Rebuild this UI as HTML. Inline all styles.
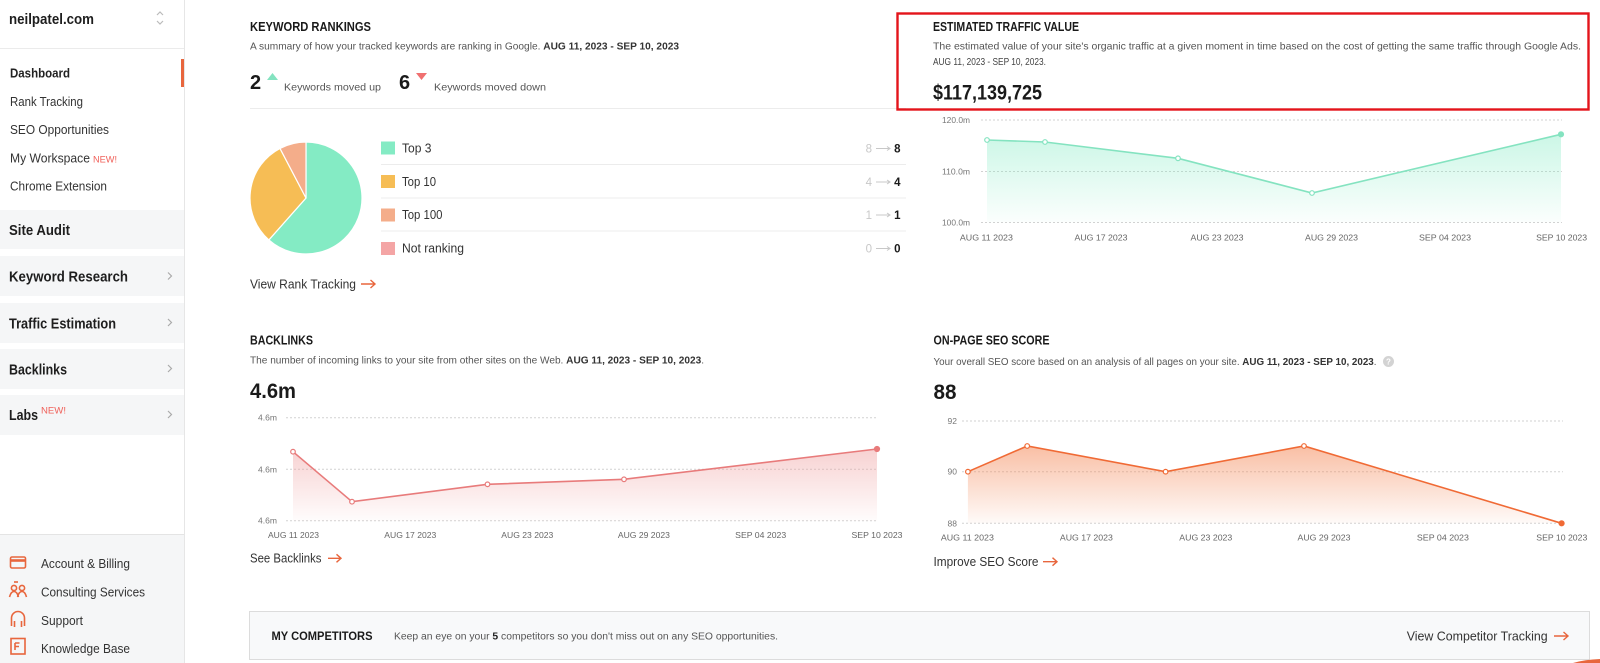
<!DOCTYPE html>
<html><head><meta charset="utf-8"><style>
html,body{margin:0;padding:0;background:#fff;width:1600px;height:663px;overflow:hidden;}
svg{display:block;font-family:"Liberation Sans",Arial,sans-serif;}
</style></head><body>
<svg width="1600" height="663" viewBox="0 0 1600 663" xmlns="http://www.w3.org/2000/svg">
<defs>
<linearGradient id="gG" x1="0" y1="0" x2="0" y2="1"><stop offset="0" stop-color="#84ebc4" stop-opacity="0.42"/><stop offset="1" stop-color="#84ebc4" stop-opacity="0.03"/></linearGradient>
<linearGradient id="gR" x1="0" y1="0" x2="0" y2="1"><stop offset="0" stop-color="#ee9a9a" stop-opacity="0.45"/><stop offset="1" stop-color="#ee9a9a" stop-opacity="0.03"/></linearGradient>
<linearGradient id="gO" x1="0" y1="0" x2="0" y2="1"><stop offset="0" stop-color="#f48a5a" stop-opacity="0.55"/><stop offset="1" stop-color="#f48a5a" stop-opacity="0.04"/></linearGradient>
</defs>

<!-- Sidebar -->
<rect x="0" y="210" width="184" height="39" fill="#f5f6f7"/>
<rect x="0" y="256" width="184" height="40" fill="#f5f6f7"/>
<rect x="0" y="303" width="184" height="40" fill="#f5f6f7"/>
<rect x="0" y="349" width="184" height="40" fill="#f5f6f7"/>
<rect x="0" y="395" width="184" height="40" fill="#f5f6f7"/>
<rect x="0" y="534" width="184" height="129" fill="#f5f6f7"/>
<line x1="0" y1="534.5" x2="184" y2="534.5" stroke="#e4e4e4"/>
<line x1="0" y1="48.5" x2="184" y2="48.5" stroke="#ebebeb"/>
<line x1="184.5" y1="0" x2="184.5" y2="663" stroke="#e6e6e6"/>
<rect x="181" y="59" width="3" height="28" fill="#e8663d"/>

<text x="9" y="24" font-size="15" font-weight="bold" fill="#1e1e1e" textLength="85" lengthAdjust="spacingAndGlyphs">neilpatel.com</text>
<polyline points="157,15 160,12 163,15" fill="none" stroke="#bbb" stroke-width="1.2"/>
<polyline points="157,21 160,24 163,21" fill="none" stroke="#bbb" stroke-width="1.2"/>

<text x="10" y="77.5" font-size="13" font-weight="bold" fill="#222" textLength="60" lengthAdjust="spacingAndGlyphs">Dashboard</text>
<text x="10" y="105.8" font-size="13" fill="#333" textLength="73" lengthAdjust="spacingAndGlyphs">Rank Tracking</text>
<text x="10" y="134.1" font-size="13" fill="#333" textLength="99" lengthAdjust="spacingAndGlyphs">SEO Opportunities</text>
<text x="10" y="162.4" font-size="13" fill="#333" textLength="80" lengthAdjust="spacingAndGlyphs">My Workspace</text>
<text x="93" y="162.4" font-size="9" fill="#f0615a" textLength="24" lengthAdjust="spacingAndGlyphs">NEW!</text>
<text x="10" y="190.7" font-size="13" fill="#333" textLength="97" lengthAdjust="spacingAndGlyphs">Chrome Extension</text>

<text x="9" y="235" font-size="15" font-weight="bold" fill="#1e1e1e" textLength="61" lengthAdjust="spacingAndGlyphs">Site Audit</text>
<text x="9" y="281.7" font-size="15" font-weight="bold" fill="#1e1e1e" textLength="119" lengthAdjust="spacingAndGlyphs">Keyword Research</text>
<text x="9" y="328.3" font-size="15" font-weight="bold" fill="#1e1e1e" textLength="107" lengthAdjust="spacingAndGlyphs">Traffic Estimation</text>
<text x="9" y="374.3" font-size="15" font-weight="bold" fill="#1e1e1e" textLength="58" lengthAdjust="spacingAndGlyphs">Backlinks</text>
<text x="9" y="420" font-size="15" font-weight="bold" fill="#1e1e1e" textLength="29" lengthAdjust="spacingAndGlyphs">Labs</text>
<text x="41" y="413.5" font-size="9" fill="#f0615a" textLength="25" lengthAdjust="spacingAndGlyphs">NEW!</text>
<g fill="none" stroke="#aaa" stroke-width="1.2">
<polyline points="168,272.5 171.5,276 168,279.5"/>
<polyline points="168,319 171.5,322.5 168,326"/>
<polyline points="168,365 171.5,368.5 168,372"/>
<polyline points="168,411 171.5,414.5 168,418"/>
</g>

<!-- bottom sidebar icons -->
<g fill="none" stroke="#e8663d" stroke-width="1.6">
<rect x="10.5" y="557" width="15" height="11" rx="1.5"/>
<line x1="10.5" y1="560.5" x2="25.5" y2="560.5" stroke-width="2.6"/>
<line x1="14" y1="582" x2="18" y2="582"/>
<circle cx="14" cy="588" r="2.6"/>
<circle cx="22" cy="588" r="2.6"/>
<path d="M9.5,597 Q11,591.5 14,591.5 Q17,591.5 18.5,597"/>
<path d="M17.5,597 Q19,591.5 22,591.5 Q25,591.5 26.5,597"/>
<path d="M11.5,626 L11.5,618 A6.5,6.5 0 0 1 24.5,618 L24.5,626"/>
<line x1="14.5" y1="621" x2="14.5" y2="627"/>
<line x1="21.5" y1="621" x2="21.5" y2="627"/>
<rect x="11" y="638.5" width="14" height="15.5"/>
<path d="M15,643 L19.5,643 M15,646.5 L19,646.5 M15,643 L15,650"/>
</g>
<text x="41" y="568" font-size="13" fill="#333" textLength="89" lengthAdjust="spacingAndGlyphs">Account &amp; Billing</text>
<text x="41" y="596.5" font-size="13" fill="#333" textLength="104" lengthAdjust="spacingAndGlyphs">Consulting Services</text>
<text x="41" y="625" font-size="13" fill="#333" textLength="42" lengthAdjust="spacingAndGlyphs">Support</text>
<text x="41" y="653" font-size="13" fill="#333" textLength="89" lengthAdjust="spacingAndGlyphs">Knowledge Base</text>

<!-- KEYWORD RANKINGS -->
<text x="250" y="31" font-size="12.5" font-weight="bold" fill="#1a1a1a" textLength="121" lengthAdjust="spacingAndGlyphs">KEYWORD RANKINGS</text>
<text x="250" y="49.5" font-size="10.5" fill="#555" textLength="429" lengthAdjust="spacingAndGlyphs">A summary of how your tracked keywords are ranking in Google. <tspan font-weight="bold" fill="#333">AUG 11, 2023 - SEP 10, 2023</tspan></text>
<text x="250" y="89" font-size="20" font-weight="bold" fill="#1a1a1a">2</text>
<polygon points="267,80 272.5,73 278,80" fill="#84e3c0"/>
<text x="284" y="90.5" font-size="10.5" fill="#555" textLength="97" lengthAdjust="spacingAndGlyphs">Keywords moved up</text>
<text x="399" y="89" font-size="20" font-weight="bold" fill="#1a1a1a">6</text>
<polygon points="416,73 427,73 421.5,80" fill="#f07070"/>
<text x="434" y="90.5" font-size="10.5" fill="#555" textLength="112" lengthAdjust="spacingAndGlyphs">Keywords moved down</text>
<line x1="250" y1="108.5" x2="906" y2="108.5" stroke="#ececec"/>

<!-- Pie -->
<g stroke="#fff" stroke-width="1.2">
<path d="M306,198 L306,142 A56,56 0 1 1 268.87,239.92 Z" fill="#84ebc4"/>
<path d="M306,198 L268.87,239.92 A56,56 0 0 1 279.98,148.41 Z" fill="#f6bd55"/>
<path d="M306,198 L279.98,148.41 A56,56 0 0 1 306,142 Z" fill="#f4ad8a"/>
</g>
<rect x="381" y="141.5" width="14" height="13" fill="#84ebc4"/>
<rect x="381" y="175" width="14" height="13" fill="#f6bd55"/>
<rect x="381" y="208.5" width="14" height="13" fill="#f4ad8a"/>
<rect x="381" y="242" width="14" height="13" fill="#f4a5a5"/>
<text x="402" y="152.5" font-size="12.5" fill="#333" textLength="29.5" lengthAdjust="spacingAndGlyphs">Top 3</text>
<text x="402" y="186" font-size="12.5" fill="#333" textLength="34" lengthAdjust="spacingAndGlyphs">Top 10</text>
<text x="402" y="219" font-size="12.5" fill="#333" textLength="40.5" lengthAdjust="spacingAndGlyphs">Top 100</text>
<text x="402" y="252.5" font-size="12.5" fill="#333" textLength="62" lengthAdjust="spacingAndGlyphs">Not ranking</text>
<g stroke="#ececec"><line x1="381" y1="164.5" x2="906" y2="164.5"/><line x1="381" y1="198" x2="906" y2="198"/><line x1="381" y1="231" x2="906" y2="231"/></g>
<g font-size="11.5">
<text x="872" y="152.5" fill="#c8c8c8" text-anchor="end">8</text><text x="900.5" y="152.5" fill="#1a1a1a" font-weight="bold" text-anchor="end">8</text>
<text x="872" y="186" fill="#c8c8c8" text-anchor="end">4</text><text x="900.5" y="186" fill="#1a1a1a" font-weight="bold" text-anchor="end">4</text>
<text x="872" y="219" fill="#c8c8c8" text-anchor="end">1</text><text x="900.5" y="219" fill="#1a1a1a" font-weight="bold" text-anchor="end">1</text>
<text x="872" y="252.5" fill="#c8c8c8" text-anchor="end">0</text><text x="900.5" y="252.5" fill="#1a1a1a" font-weight="bold" text-anchor="end">0</text>
</g>
<g fill="none" stroke="#c8c8c8" stroke-width="1">
<path d="M876,148.5 L890,148.5 M887,146.5 L890,148.5 L887,150.5"/>
<path d="M876,182 L890,182 M887,180 L890,182 L887,184"/>
<path d="M876,215 L890,215 M887,213 L890,215 L887,217"/>
<path d="M876,248.5 L890,248.5 M887,246.5 L890,248.5 L887,250.5"/>
</g>
<text x="250" y="288.4" font-size="12.5" fill="#333" textLength="106" lengthAdjust="spacingAndGlyphs">View Rank Tracking</text>
<path d="M361,284 L375,284 M370.5,280 L375,284 L370.5,288" fill="none" stroke="#e8663d" stroke-width="1.4"/>

<!-- ESTIMATED TRAFFIC VALUE -->
<rect x="897.5" y="13.5" width="691" height="96" fill="none" stroke="#e3141b" stroke-width="2.4"/>
<text x="933" y="31" font-size="12.5" font-weight="bold" fill="#1a1a1a" textLength="146" lengthAdjust="spacingAndGlyphs">ESTIMATED TRAFFIC VALUE</text>
<text x="933" y="49.5" font-size="10.5" fill="#555" textLength="648" lengthAdjust="spacingAndGlyphs">The estimated value of your site's organic traffic at a given moment in time based on the cost of getting the same traffic through Google Ads.</text>
<text x="933" y="65" font-size="10.5" fill="#444" textLength="113" lengthAdjust="spacingAndGlyphs">AUG 11, 2023 - SEP 10, 2023.</text>
<text x="933" y="99.5" font-size="21" font-weight="bold" fill="#1a1a1a" textLength="109" lengthAdjust="spacingAndGlyphs">$117,139,725</text>

<g stroke="#d2d2d2" stroke-dasharray="2 2" stroke-width="1">
<line x1="981" y1="120" x2="1562" y2="120"/><line x1="981" y1="171.5" x2="1562" y2="171.5"/><line x1="981" y1="222.5" x2="1562" y2="222.5"/>
</g>
<g font-size="8.5" fill="#777" text-anchor="end">
<text x="970" y="123" textLength="28" lengthAdjust="spacingAndGlyphs">120.0m</text>
<text x="970" y="174.7" textLength="28" lengthAdjust="spacingAndGlyphs">110.0m</text>
<text x="970" y="225.7" textLength="28" lengthAdjust="spacingAndGlyphs">100.0m</text>
</g>
<path d="M987,140 L1045,142 L1178,158.3 L1312,193 L1561,134.3 L1561,222.5 L987,222.5 Z" fill="url(#gG)"/>
<polyline points="987,140 1045,142 1178,158.3 1312,193 1561,134.3" fill="none" stroke="#84e3c0" stroke-width="1.6"/>
<g fill="#fff" stroke="#84e3c0" stroke-width="1.2">
<circle cx="987" cy="140" r="2.3"/><circle cx="1045" cy="142" r="2.3"/><circle cx="1178" cy="158.3" r="2.3"/><circle cx="1312" cy="193" r="2.3"/><circle cx="1561" cy="134.3" r="2.5" fill="#84e3c0"/>
</g>
<g font-size="8.5" fill="#666" text-anchor="middle">
<text x="986.4" y="240.7" textLength="53" lengthAdjust="spacingAndGlyphs">AUG 11 2023</text>
<text x="1101" y="240.7" textLength="53" lengthAdjust="spacingAndGlyphs">AUG 17 2023</text>
<text x="1217" y="240.7" textLength="53" lengthAdjust="spacingAndGlyphs">AUG 23 2023</text>
<text x="1331.5" y="240.7" textLength="53" lengthAdjust="spacingAndGlyphs">AUG 29 2023</text>
<text x="1445" y="240.7" textLength="52" lengthAdjust="spacingAndGlyphs">SEP 04 2023</text>
<text x="1561.6" y="240.7" textLength="51" lengthAdjust="spacingAndGlyphs">SEP 10 2023</text>
</g>

<!-- BACKLINKS -->
<text x="250" y="344.5" font-size="12.5" font-weight="bold" fill="#1a1a1a" textLength="63" lengthAdjust="spacingAndGlyphs">BACKLINKS</text>
<text x="250" y="363.5" font-size="10.5" fill="#555" textLength="454" lengthAdjust="spacingAndGlyphs">The number of incoming links to your site from other sites on the Web. <tspan font-weight="bold" fill="#333">AUG 11, 2023 - SEP 10, 2023</tspan>.</text>
<text x="250" y="398" font-size="21" font-weight="bold" fill="#1a1a1a" textLength="46" lengthAdjust="spacingAndGlyphs">4.6m</text>
<g stroke="#d2d2d2" stroke-dasharray="2 2" stroke-width="1">
<line x1="286" y1="417.7" x2="877" y2="417.7"/><line x1="286" y1="469.3" x2="877" y2="469.3"/><line x1="286" y1="520.7" x2="877" y2="520.7"/>
</g>
<g font-size="8.5" fill="#777" text-anchor="end">
<text x="277" y="420.7" textLength="19" lengthAdjust="spacingAndGlyphs">4.6m</text>
<text x="277" y="472.3" textLength="19" lengthAdjust="spacingAndGlyphs">4.6m</text>
<text x="277" y="523.7" textLength="19" lengthAdjust="spacingAndGlyphs">4.6m</text>
</g>
<path d="M293,451.7 L352,501.7 L487.5,484.3 L624,479.3 L877,449 L877,520.7 L293,520.7 Z" fill="url(#gR)"/>
<polyline points="293,451.7 352,501.7 487.5,484.3 624,479.3 877,449" fill="none" stroke="#e87b7b" stroke-width="1.6"/>
<g fill="#fff" stroke="#e87b7b" stroke-width="1.2">
<circle cx="293" cy="451.7" r="2.3"/><circle cx="352" cy="501.7" r="2.3"/><circle cx="487.5" cy="484.3" r="2.3"/><circle cx="624" cy="479.3" r="2.3"/><circle cx="877" cy="449" r="2.5" fill="#e87b7b"/>
</g>
<g font-size="8.5" fill="#666" text-anchor="middle">
<text x="293.5" y="538" textLength="51" lengthAdjust="spacingAndGlyphs">AUG 11 2023</text>
<text x="410.3" y="538" textLength="52" lengthAdjust="spacingAndGlyphs">AUG 17 2023</text>
<text x="527.3" y="538" textLength="52" lengthAdjust="spacingAndGlyphs">AUG 23 2023</text>
<text x="643.9" y="538" textLength="52" lengthAdjust="spacingAndGlyphs">AUG 29 2023</text>
<text x="760.7" y="538" textLength="51" lengthAdjust="spacingAndGlyphs">SEP 04 2023</text>
<text x="877" y="538" textLength="51" lengthAdjust="spacingAndGlyphs">SEP 10 2023</text>
</g>
<text x="250" y="562.7" font-size="12.5" fill="#333" textLength="71.5" lengthAdjust="spacingAndGlyphs">See Backlinks</text>
<path d="M328,558.3 L341,558.3 M336.5,554.3 L341,558.3 L336.5,562.3" fill="none" stroke="#e8663d" stroke-width="1.4"/>

<!-- ON-PAGE SEO SCORE -->
<text x="933.5" y="344.5" font-size="12.5" font-weight="bold" fill="#1a1a1a" textLength="116" lengthAdjust="spacingAndGlyphs">ON-PAGE SEO SCORE</text>
<text x="933.5" y="365" font-size="10.5" fill="#555" textLength="443" lengthAdjust="spacingAndGlyphs">Your overall SEO score based on an analysis of all pages on your site. <tspan font-weight="bold" fill="#333">AUG 11, 2023 - SEP 10, 2023</tspan>.</text>
<circle cx="1388.5" cy="361.5" r="5.5" fill="#d3d3d3"/>
<text x="1388.5" y="364.5" font-size="8" font-weight="bold" fill="#fff" text-anchor="middle">?</text>
<text x="933.5" y="399" font-size="21" font-weight="bold" fill="#1a1a1a" textLength="23" lengthAdjust="spacingAndGlyphs">88</text>
<g stroke="#d2d2d2" stroke-dasharray="2 2" stroke-width="1">
<line x1="962" y1="421" x2="1563" y2="421"/><line x1="962" y1="471.7" x2="1563" y2="471.7"/><line x1="962" y1="523.3" x2="1563" y2="523.3"/>
</g>
<g font-size="8.5" fill="#777" text-anchor="end">
<text x="957" y="424">92</text>
<text x="957" y="474.7">90</text>
<text x="957" y="526.3">88</text>
</g>
<path d="M967.9,471.7 L1027.2,446 L1165.6,471.7 L1304,446 L1561.6,523.3 L967.9,523.3 Z" fill="url(#gO)"/>
<polyline points="967.9,471.7 1027.2,446 1165.6,471.7 1304,446 1561.6,523.3" fill="none" stroke="#f06a35" stroke-width="1.6"/>
<g fill="#fff" stroke="#f06a35" stroke-width="1.2">
<circle cx="967.9" cy="471.7" r="2.3"/><circle cx="1027.2" cy="446" r="2.3"/><circle cx="1165.6" cy="471.7" r="2.3"/><circle cx="1304" cy="446" r="2.3"/><circle cx="1561.6" cy="523.3" r="2.5" fill="#f06a35"/>
</g>
<g font-size="8.5" fill="#666" text-anchor="middle">
<text x="967.4" y="540.7" textLength="53" lengthAdjust="spacingAndGlyphs">AUG 11 2023</text>
<text x="1086.4" y="540.7" textLength="53" lengthAdjust="spacingAndGlyphs">AUG 17 2023</text>
<text x="1205.8" y="540.7" textLength="53" lengthAdjust="spacingAndGlyphs">AUG 23 2023</text>
<text x="1324" y="540.7" textLength="53" lengthAdjust="spacingAndGlyphs">AUG 29 2023</text>
<text x="1442.9" y="540.7" textLength="52" lengthAdjust="spacingAndGlyphs">SEP 04 2023</text>
<text x="1561.8" y="540.7" textLength="51" lengthAdjust="spacingAndGlyphs">SEP 10 2023</text>
</g>
<text x="933.5" y="566" font-size="12.5" fill="#333" textLength="105" lengthAdjust="spacingAndGlyphs">Improve SEO Score</text>
<path d="M1043,561.7 L1057,561.7 M1052.5,557.7 L1057,561.7 L1052.5,565.7" fill="none" stroke="#e8663d" stroke-width="1.4"/>

<!-- MY COMPETITORS -->
<rect x="249.5" y="611.5" width="1340" height="48" fill="#f8f9fa" stroke="#dcdcdc"/>
<text x="271.5" y="640" font-size="12" font-weight="bold" fill="#1a1a1a" textLength="101" lengthAdjust="spacingAndGlyphs">MY COMPETITORS</text>
<text x="394" y="639.5" font-size="10" fill="#555" textLength="384" lengthAdjust="spacingAndGlyphs">Keep an eye on your <tspan font-weight="bold" fill="#222">5</tspan> competitors so you don't miss out on any SEO opportunities.</text>
<text x="1406.7" y="640.5" font-size="12.5" fill="#333" textLength="141" lengthAdjust="spacingAndGlyphs">View Competitor Tracking</text>
<path d="M1554,636 L1568,636 M1563.5,632 L1568,636 L1563.5,640" fill="none" stroke="#e8663d" stroke-width="1.4"/>

<path d="M1573,663 Q1585,659.5 1600,659 L1600,663 Z" fill="#e8663d"/>
</svg>
</body></html>
